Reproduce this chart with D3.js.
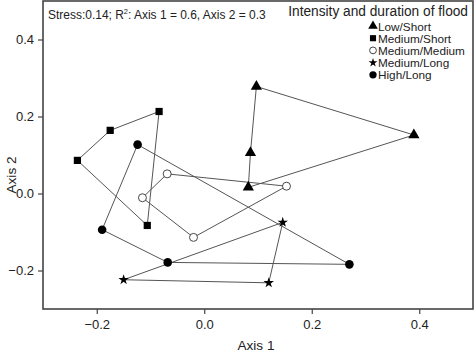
<!DOCTYPE html>
<html><head><meta charset="utf-8">
<script src="https://cdn.jsdelivr.net/npm/d3@7"></script>
<style>body{margin:0;background:#fff}svg{display:block}text{font-family:"Liberation Sans",Arial,sans-serif}</style>
</head><body>
<svg id="c" width="474" height="355"></svg>
<script>
const groups = ["Low/Short","Medium/Short","Medium/Medium","Medium/Long","High/Long"];
const symbolsKey = ["triangle","square","open","star","circle"];
const lowShort = [[0.097,0.278],[0.390,0.152],[0.082,0.016],[0.086,0.106]];
const medShort = [[-0.084,0.213],[-0.175,0.164],[-0.236,0.086],[-0.106,-0.083]];
const medMed = [[-0.069,0.051],[-0.115,-0.011],[-0.020,-0.114],[0.153,0.019]];
const medLong = [[0.146,-0.075],[0.120,-0.232],[-0.150,-0.224]];
const highLong = [[-0.124,0.127],[-0.190,-0.094],[-0.068,-0.179],[0.270,-0.184]];
const seriesData = [lowShort, medShort, medMed, medLong, highLong];
const xTicks = [-0.2,0.0,0.2,0.4];
const yTicks = [-0.2,0.0,0.2,0.4];

const FONT = "Liberation Sans, Arial, sans-serif";
const svg = d3.select("#c");
const L=43,R=473,T=1,B=309;
const x = d3.scaleLinear().domain([-0.3,0.5]).range([L,R]);
const y = d3.scaleLinear().domain([-0.3,0.5]).range([B,T]);

function fit(sel, size, target){
  sel.attr("font-size", size);
  const len = sel.node().getComputedTextLength();
  if (len > 0) sel.attr("font-size", size * target / len);
}

const line = d3.line().x(d=>x(d[0])).y(d=>y(d[1])).curve(d3.curveLinearClosed);
seriesData.forEach(s=>{
  svg.append("path").attr("d",line(s)).attr("fill","none").attr("stroke","#555").attr("stroke-width",1);
});

function sym(g, type, cx, cy, scale){
  scale = scale||1;
  if(type==="open"){
    g.append("circle").attr("cx",cx).attr("cy",cy).attr("r",4*scale).attr("fill","#fff").attr("stroke","#333").attr("stroke-width",0.9);
  } else if(type==="circle"){
    g.append("circle").attr("cx",cx).attr("cy",cy).attr("r",4.3*scale).attr("fill","#000");
  } else {
    const t = {triangle:d3.symbolTriangle, square:d3.symbolSquare, star:d3.symbolStar}[type];
    const size = {triangle:55, square:52, star:34}[type]*scale*scale;
    g.append("path").attr("d",d3.symbol().type(t).size(size)())
      .attr("transform",`translate(${cx},${cy})`).attr("fill","#000");
  }
}
const mg = svg.append("g");
seriesData.forEach((s,i)=>{
  s.forEach(p=>sym(mg, symbolsKey[i], x(p[0]), y(p[1]), 1));
});

svg.append("rect").attr("x",L).attr("y",T).attr("width",R-L).attr("height",B-T)
  .attr("fill","none").attr("stroke","#444").attr("stroke-width",1.6);

const xa = svg.append("g").attr("transform",`translate(0,${B})`)
  .call(d3.axisBottom(x).tickValues(xTicks).tickSize(5).tickPadding(6).tickFormat(d3.format(".1f")));
const ya = svg.append("g").attr("transform",`translate(${L},0)`)
  .call(d3.axisLeft(y).tickValues(yTicks).tickSize(5).tickPadding(4).tickFormat(d3.format(".1f")));
[xa,ya].forEach(a=>{
  a.select(".domain").remove();
  a.selectAll("line").attr("stroke","#444").attr("stroke-width",1.2);
  a.selectAll("text").attr("font-size",13).attr("fill","#222").attr("font-family",FONT);
});

const ax1 = svg.append("text").attr("x",256).attr("y",350).attr("text-anchor","middle")
  .attr("font-family",FONT).attr("fill","#222").text("Axis 1");
fit(ax1, 15.5, 37);
const ax2 = svg.append("text").attr("transform",`translate(16,${(T+B)/2+20}) rotate(-90)`).attr("text-anchor","middle")
  .attr("font-family",FONT).attr("fill","#222").text("Axis 2");
fit(ax2, 15.5, 37);

const st = svg.append("text").attr("x",48).attr("y",19).attr("font-family",FONT).attr("fill","#222");
st.append("tspan").text("Stress:0.14; R");
st.append("tspan").attr("dy",-5).attr("font-size","0.62em").text("2");
st.append("tspan").attr("dy",5).text(": Axis 1 = 0.6, Axis 2 = 0.3");
fit(st, 13, 218);

const ti = svg.append("text").attr("x",468).attr("y",16).attr("text-anchor","end").attr("font-family",FONT).attr("fill","#222")
  .text("Intensity and duration of flood");
fit(ti, 14, 180);

const lg = svg.append("g");
let legendSize = null;
groups.forEach((g,i)=>{
  const cy = 26 + i*12.2;
  sym(lg, symbolsKey[i], 373, cy, 0.85);
  const t = lg.append("text").attr("x",378).attr("y",cy+4.5).attr("font-family",FONT).attr("fill","#222").text(g);
  if (legendSize === null) {
    const probe = lg.append("text").attr("font-family",FONT).text("Medium/Medium");
    fit(probe, 13, 87);
    legendSize = +probe.attr("font-size");
    probe.remove();
  }
  t.attr("font-size", legendSize);
});
</script>
</body></html>
